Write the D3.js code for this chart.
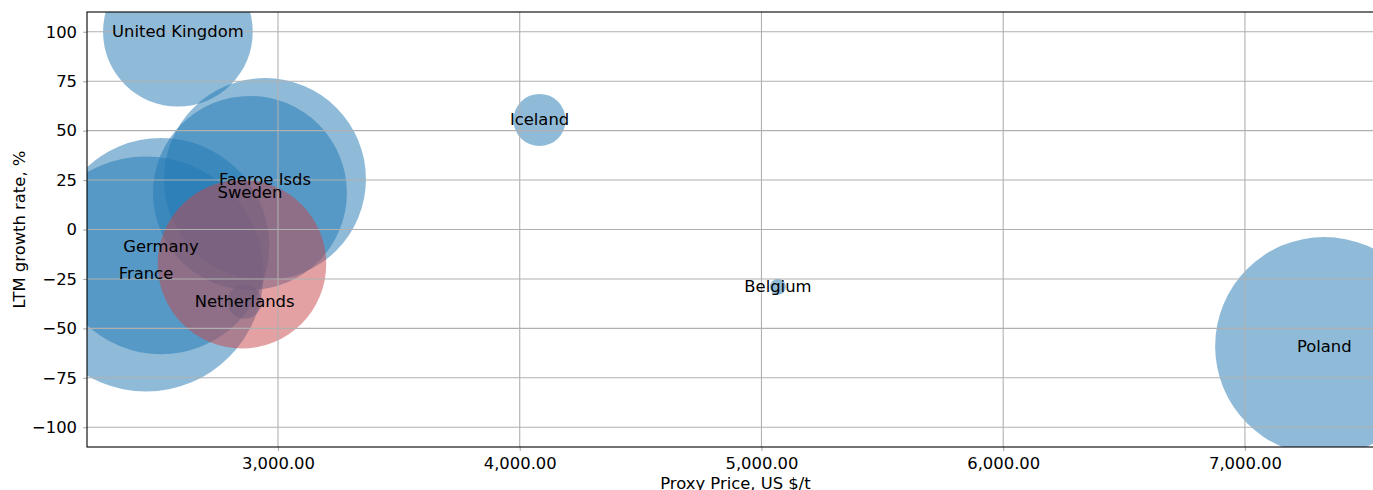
<!DOCTYPE html>
<html>
<head>
<meta charset="utf-8">
<script src="https://cdn.jsdelivr.net/npm/d3@7"></script>
<style>
  body { margin: 0; background: #fff; }
  text { font-family: "DejaVu Sans", sans-serif; }
</style>
</head>
<body>
<svg id="chart" width="1373" height="490"></svg>
<script>
// ---- data ----
const countries = ["United Kingdom", "Faeroe Isds", "Sweden", "Germany", "France", "Iceland", "Belgium", "Poland", "Netherlands", ""];
const proxyPrice = [2586, 2946, 2884, 2516, 2454, 4082, 5068, 7328, 2862, 2851];
const growthRate = [100, 25.5, 18.5, -8.4, -22.5, 55.4, -29, -59, -36.5, -17.5];
const volume = [56, 102, 94, 117, 138, 6.8, 0.64, 119, 2.9, 71];
const highlight = [false, false, false, false, false, false, false, false, false, true];
const yTicks = [-100, -75, -50, -25, 0, 25, 50, 75, 100];
const xTicks = [3000, 4000, 5000, 6000, 7000];
const xLabel = "Proxy Price, US $/t";
const yLabel = "LTM growth rate, %";

(function () {
const data = countries.map((c, i) => ({
  name: c, x: proxyPrice[i], y: growthRate[i], v: volume[i], hl: highlight[i]
}));

// ---- layout ----
const svg = d3.select("#chart");
const mLeft = 87, mTop = 12, mBottom = 447, mRight = 1390;
const FS = 16.4;

const x = d3.scaleLinear().domain([2210, 7600]).range([mLeft, mRight]);
const y = d3.scaleLinear().domain([-110, 110]).range([mBottom, mTop]);
const r = d3.scaleSqrt().domain([0, 138]).range([0, 117.5]);

svg.append("defs").append("clipPath").attr("id", "plotclip")
  .append("rect").attr("x", mLeft).attr("y", mTop)
  .attr("width", mRight - mLeft).attr("height", mBottom - mTop);

const plot = svg.append("g").attr("clip-path", "url(#plotclip)");

// bubbles
plot.selectAll("circle").data(data).enter().append("circle")
  .attr("cx", d => x(d.x))
  .attr("cy", d => y(d.y))
  .attr("r", d => r(d.v))
  .attr("fill", d => d.hl ? "#c74447" : "#1f77b4")
  .attr("fill-opacity", 0.5);

// grid (above bubbles like matplotlib default)
const grid = svg.append("g");
grid.selectAll(".gx").data(xTicks).enter().append("line")
  .attr("x1", d => x(d)).attr("x2", d => x(d))
  .attr("y1", mTop).attr("y2", mBottom)
  .attr("stroke", "#b0b0b0").attr("stroke-width", 1.1);
grid.selectAll(".gy").data(yTicks).enter().append("line")
  .attr("x1", mLeft).attr("x2", mRight)
  .attr("y1", d => y(d)).attr("y2", d => y(d))
  .attr("stroke", "#b0b0b0").attr("stroke-width", 1.1);

// labels
svg.append("g").selectAll("text.lbl").data(data.filter(d => d.name)).enter().append("text")
  .attr("class", "lbl")
  .attr("x", d => x(d.x))
  .attr("y", d => y(d.y))
  .attr("text-anchor", "middle")
  .attr("dominant-baseline", "central")
  .attr("font-size", FS)
  .attr("fill", "#000")
  .text(d => d.name);

// axes
const xAxis = d3.axisBottom(x).tickValues(xTicks).tickFormat(d3.format(",.2f")).tickSize(4).tickPadding(6);
const yAxis = d3.axisLeft(y).tickValues(yTicks).tickFormat(d3.format("d")).tickSize(4).tickPadding(6);

const gx = svg.append("g").attr("transform", `translate(0,${mBottom})`).call(xAxis);
const gy = svg.append("g").attr("transform", `translate(${mLeft},0)`).call(yAxis);
[gx, gy].forEach(g => {
  g.select(".domain").remove();
  g.selectAll("text").attr("font-size", FS).attr("font-family", "DejaVu Sans").attr("fill", "#000");
  g.selectAll("line").attr("stroke", "#b0b0b0").attr("stroke-width", 1.1);
});

// spines
svg.append("rect").attr("x", mLeft).attr("y", mTop)
  .attr("width", mRight - mLeft).attr("height", mBottom - mTop)
  .attr("fill", "none").attr("stroke", "#000").attr("stroke-width", 1.1);

// axis titles
svg.append("text").attr("x", (mLeft + mRight) / 2 - 3).attr("y", 489)
  .attr("text-anchor", "middle").attr("font-size", FS).text(xLabel);
svg.append("text").attr("transform", `translate(25,${(mTop + mBottom) / 2}) rotate(-90)`)
  .attr("text-anchor", "middle").attr("font-size", FS).text(yLabel);
})();
</script>
</body>
</html>
